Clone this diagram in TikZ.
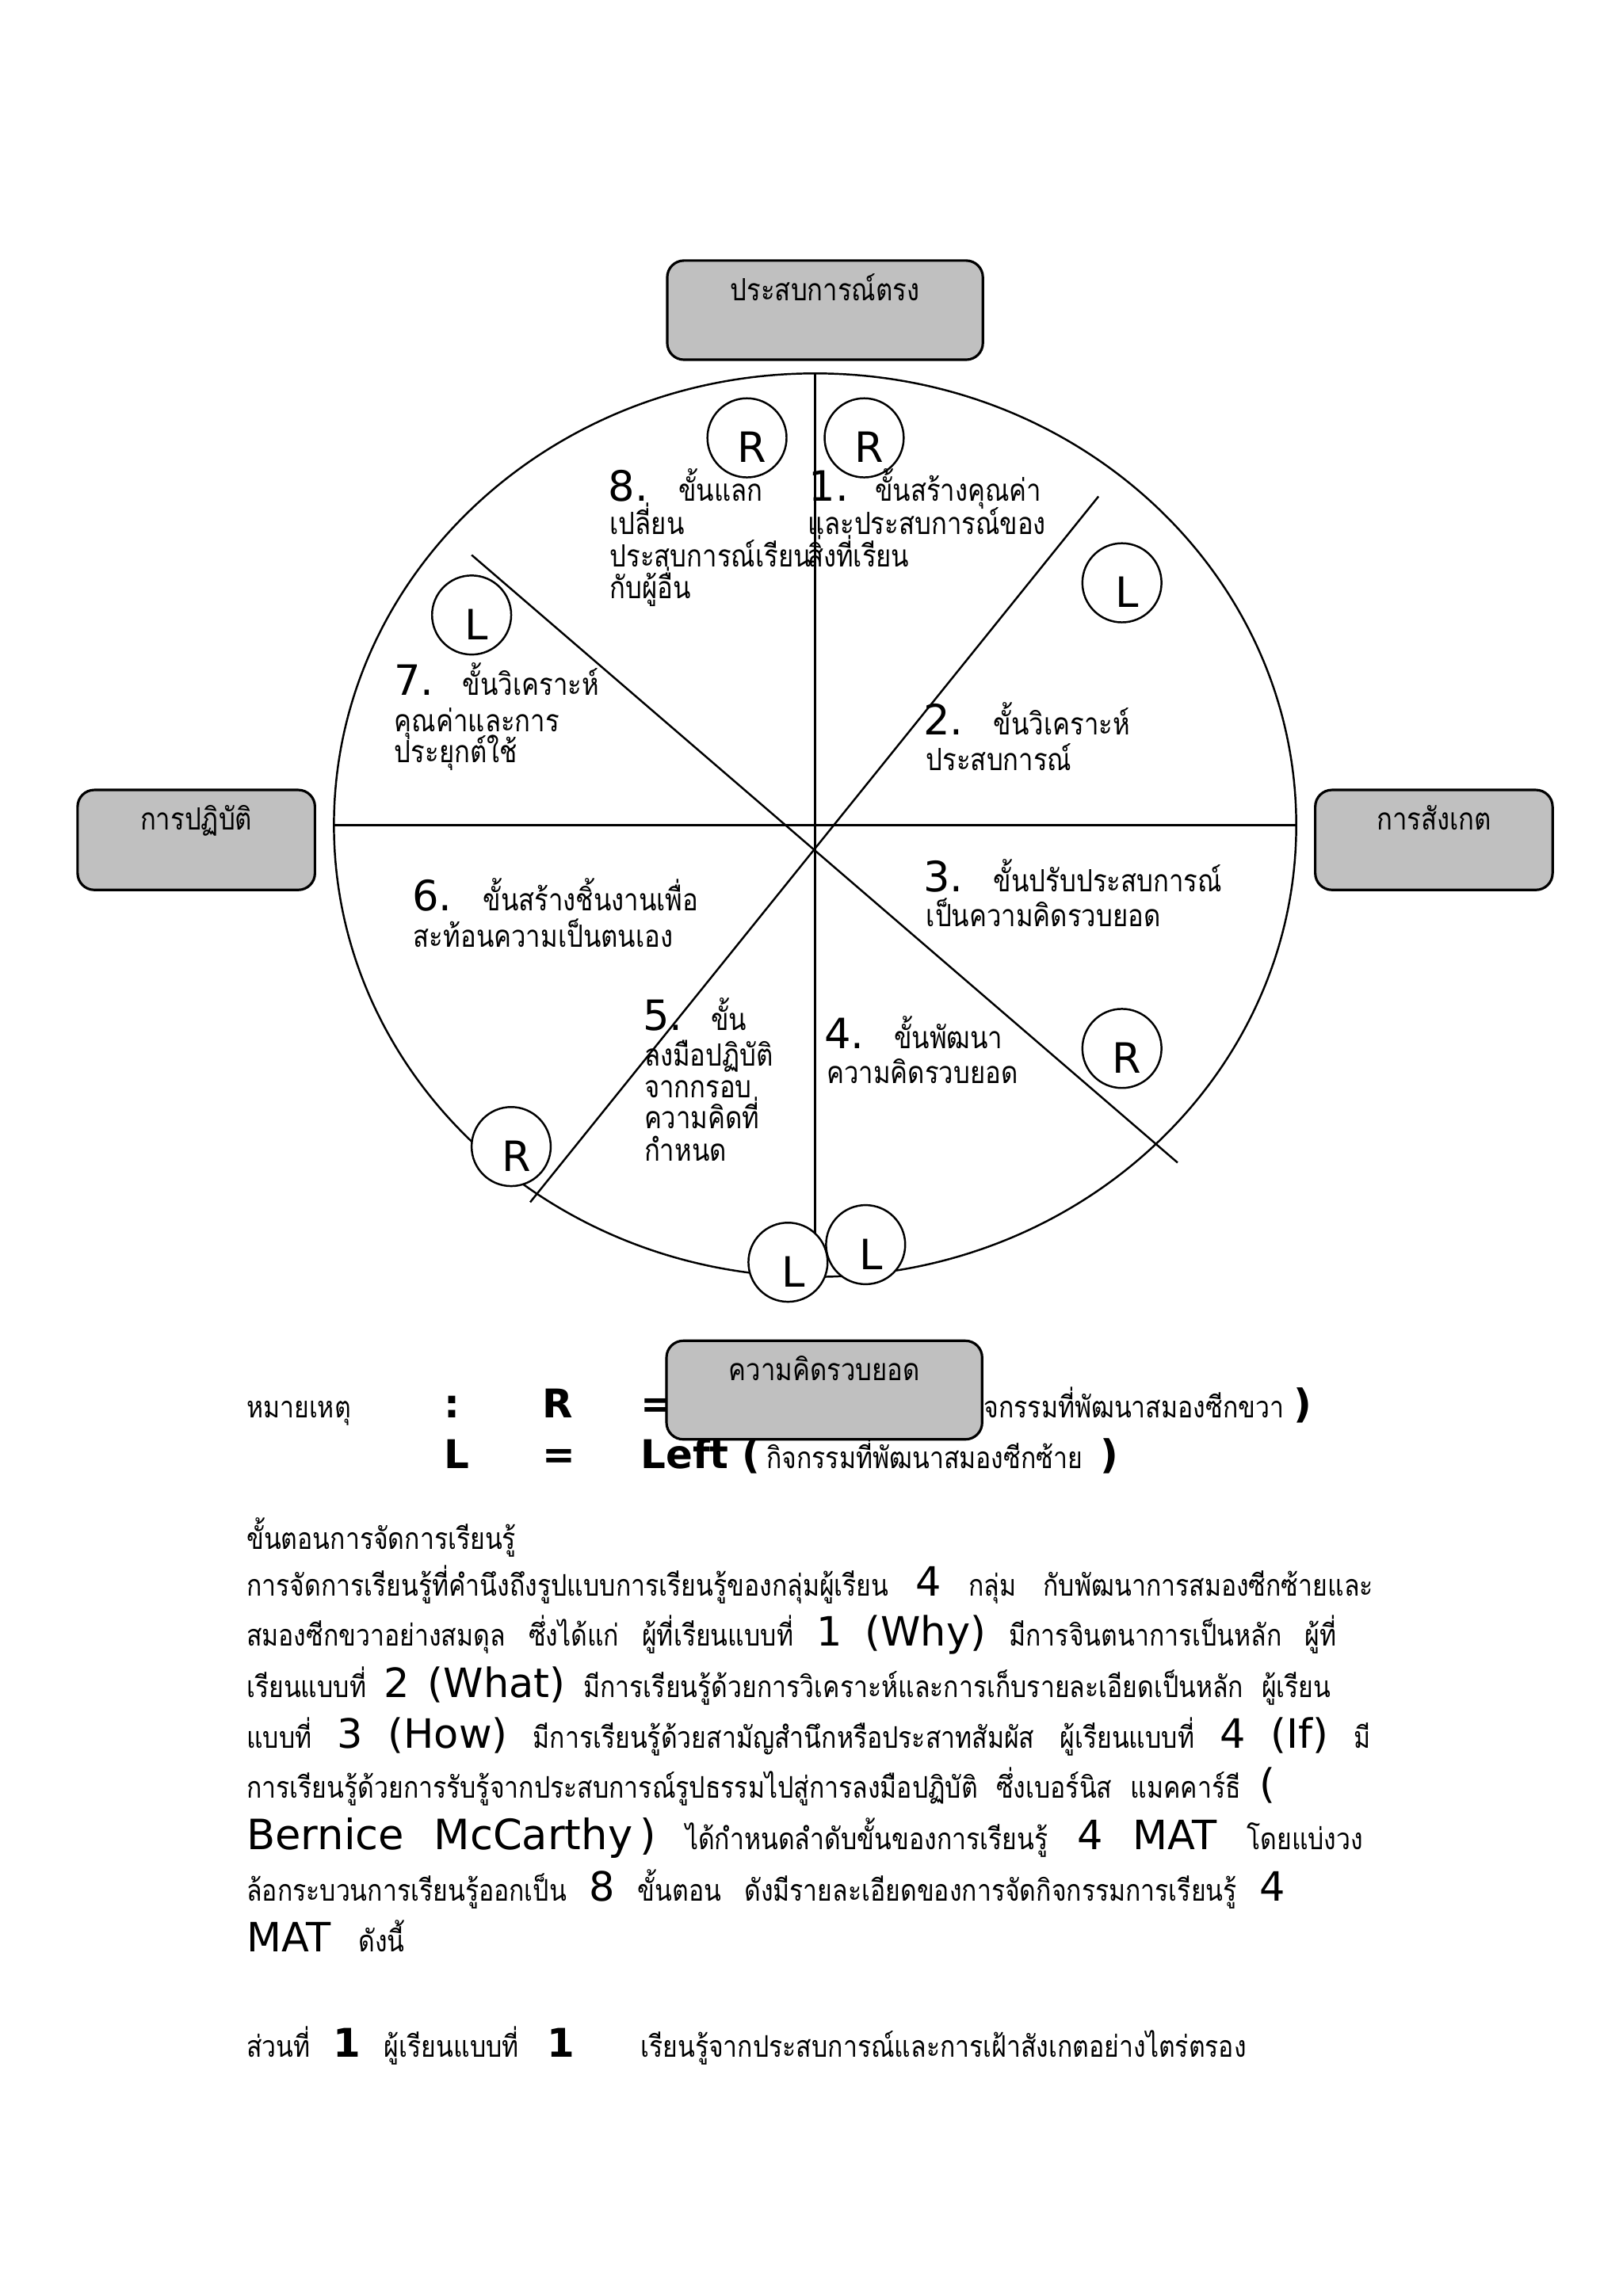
\documentclass[tikz,border=0pt]{standalone}
\usepackage{fontspec}
\setmainfont{DejaVu Sans}
\newfontfamily\thai[Script=Thai, FakeStretch=0.85]{Loma}
\newfontfamily\latn{DejaVu Sans}
\usetikzlibrary{positioning}
\definecolor{boxgray}{RGB}{192,192,192}
\newcommand\en[1]{{\latn\fontsize{14.5}{17}\selectfont #1}}

\begin{document}
\begin{tikzpicture}[
  x=0.018484cm, y=-0.018484cm,
  ln/.style={line width=0.7pt},
  phase/.style={draw, line width=0.9pt, fill=boxgray, rounded corners=6pt, inner sep=0pt,
    text height=9pt, text depth=16pt, font=\thai\fontsize{11}{13}\selectfont},
  brain/.style={circle, draw, line width=0.7pt, fill=white, minimum size=28.4pt, inner sep=0pt,
    text height=17.7pt, text depth=0pt, font=\latn\fontsize{15}{18}\selectfont,
    execute at begin node=\hspace*{3.7pt}},
  stepnum/.style={anchor=base west, inner sep=0pt, font=\latn\fontsize{15}{18}\selectfont},
  txt/.style={anchor=base west, inner sep=0pt, font=\thai\fontsize{11}{13}\selectfont},
  para/.style={anchor=base west, inner sep=0pt, font=\thai\fontsize{10.7}{12}\selectfont},
  sym/.style={anchor=base west, inner sep=0pt, font=\latn\bfseries\fontsize{14.2}{17}\selectfont},
]
\useasboundingbox (0,0) rectangle (1108,1568);

\coordinate (ctr) at (556.5,563.5);
\coordinate (top) at (556.5,255);
\coordinate (bot) at (556.5,872);
\coordinate (wst) at (228,563.5);
\coordinate (est) at (885,563.5);
\coordinate (ne) at (750,339);
\coordinate (sw) at (362,821);
\coordinate (nw) at (322,379);
\coordinate (se) at (804,794);
\draw[ln] (ctr) ellipse [x radius=328.5, y radius=308.5];
\draw[ln] (top) -- (bot);
\draw[ln] (wst) -- (est);
\draw[ln] (ne) -- (sw);
\draw[ln] (nw) -- (se);

\node[brain] (r8) at (510,299) {R};
\node[brain] (r1) at (590,299) {R};
\node[brain] (l2) at (766,398) {L};
\node[brain] (l7) at (322,420) {L};
\node[brain] (r3) at (766,716) {R};
\node[brain] (r6) at (349,783) {R};
\node[brain] (l4) at (591,850) {L};
\node[brain] (l5) at (538,862) {L};

\node[stepnum] (n1) at (552,342) {1.};
\node[txt] (t1a) at (597,342) {ขั้นสร้างคุณค่า};
\node[txt] (t1b) at (551,365) {และประสบการณ์ของ};
\node[txt] (t1c) at (551,387) {สิ่งที่เรียน};
\node[stepnum] (n2) at (630,502) {2.};
\node[txt] (t2a) at (678,502) {ขั้นวิเคราะห์};
\node[txt] (t2b) at (632,526) {ประสบการณ์};
\node[stepnum] (n3) at (630,609) {3.};
\node[txt] (t3a) at (678,609) {ขั้นปรับประสบการณ์};
\node[txt] (t3b) at (632,633) {เป็นความคิดรวบยอด};
\node[stepnum] (n4) at (562.5,716) {4.};
\node[txt] (t4a) at (610,716) {ขั้นพัฒนา};
\node[txt] (t4b) at (564,740) {ความคิดรวบยอด};
\node[stepnum] (n5) at (438.5,703.5) {5.};
\node[txt] (t5a) at (485,703.5) {ขั้น};
\node[txt] (t5b) at (439.5,728) {ลงมือปฏิบัติ};
\node[txt] (t5c) at (439.5,749.5) {จากกรอบ};
\node[txt] (t5d) at (439.5,771) {ความคิดที่};
\node[txt] (t5e) at (439.5,793) {กำหนด};
\node[stepnum] (n6) at (281,622) {6.};
\node[txt] (t6a) at (329.5,622) {ขั้นสร้างชิ้นงานเพื่อ};
\node[txt] (t6b) at (282,646.6) {สะท้อนความเป็นตนเอง};
\node[stepnum] (n7) at (268.6,475) {7.};
\node[txt] (t7a) at (315.5,475) {ขั้นวิเคราะห์};
\node[txt] (t7b) at (269,499.5) {คุณค่าและการ};
\node[txt] (t7c) at (269,521) {ประยุกต์ใช้};
\node[stepnum] (n8) at (415,342) {8.};
\node[txt] (t8a) at (463,342) {ขั้นแลก};
\node[txt] (t8b) at (416,365) {เปลี่ยน};
\node[txt] (t8c) at (416,387) {ประสบการณ์เรียน};
\node[txt] (t8d) at (416,408.5) {กับผู้อื่น};

\node[phase, minimum width=113.3pt, minimum height=35.6pt] (direct) at (563.3,211.8) {ประสบการณ์ตรง};
\node[phase, minimum width=85.2pt, minimum height=35.9pt] (practice) at (134,573.6) {การปฏิบัติ};
\node[phase, minimum width=85.2pt, minimum height=35.9pt] (observe) at (979,573.6) {การสังเกต};

\node[para] (note) at (168,968) {หมายเหตุ};
\node[sym] (colon) at (303,968) {:};
\node[sym] (rkey) at (370,968) {R};
\node[sym] (req) at (437,968) {=};
\node[para, anchor=base east] (rtext) at (877,968) {กิจกรรมที่พัฒนาสมองซีกขวา};
\node[sym] (rclose) at (883,968) {)};
\node[sym] (lkey) at (303,1003) {L};
\node[sym] (leq) at (370,1003) {=};
\node[sym] (lword) at (437,1003) {Left (};
\node[para] (ltext) at (523,1003) {กิจกรรมที่พัฒนาสมองซีกซ้าย};
\node[sym] (lclose) at (751,1003) {)};

\node[phase, minimum width=113.3pt, minimum height=35.4pt] (concept) at (562.8,949.3) {ความคิดรวบยอด};

\node[para] (head) at (168,1058) {ขั้นตอนการจัดการเรียนรู้};
\node[para] (p1) at (168,1090) {\makebox[404.4pt][s]{การจัดการเรียนรู้ที่คำนึงถึงรูปแบบการเรียนรู้ของกลุ่มผู้เรียน \en{4} กลุ่ม กับพัฒนาการสมองซีกซ้ายและ}};
\node[para] (p2) at (168,1124) {\makebox[391.3pt][s]{สมองซีกขวาอย่างสมดุล ซึ่งได้แก่ ผู้ที่เรียนแบบที่ \en{1} \en{(Why)} มีการจินตนาการเป็นหลัก ผู้ที่}};
\node[para] (p3) at (168,1159) {\makebox[389.2pt][s]{เรียนแบบที่ \en{2} \en{(What)} มีการเรียนรู้ด้วยการวิเคราะห์และการเก็บรายละเอียดเป็นหลัก ผู้เรียน}};
\node[para] (p4) at (168,1194) {\makebox[403.4pt][s]{แบบที่ \en{3} \en{(How)} มีการเรียนรู้ด้วยสามัญสำนึกหรือประสาทสัมผัส ผู้เรียนแบบที่ \en{4} \en{(If)} มี}};
\node[para] (p5) at (168,1228) {\makebox[369.2pt][s]{การเรียนรู้ด้วยการรับรู้จากประสบการณ์รูปธรรมไปสู่การลงมือปฏิบัติ ซึ่งเบอร์นิส แมคคาร์ธี \en{(}}};
\node[para] (p6) at (168,1263) {\makebox[400.8pt][s]{{\latn\fontsize{15}{17}\selectfont Bernice} {\latn\fontsize{15}{17}\selectfont McCarthy\hspace{2.5pt})} ได้กำหนดลำดับขั้นของการเรียนรู้ \en{4} \en{MAT} โดยแบ่งวง}};
\node[para] (p7) at (168,1298) {\makebox[372.9pt][s]{ล้อกระบวนการเรียนรู้ออกเป็น \en{8} ขั้นตอน ดังมีรายละเอียดของการจัดกิจกรรมการเรียนรู้ \en{4}}};
\node[para] (p8) at (168,1333) {\en{MAT}\hspace{10pt}ดังนี้};

\node[para] (part) at (168,1405) {ส่วนที่};
\node[sym] (partno) at (227,1405) {1};
\node[para] (learner) at (262,1405) {ผู้เรียนแบบที่};
\node[sym] (learnerno) at (373,1405) {1};
\node[para] (reflect) at (437,1405) {เรียนรู้จากประสบการณ์และการเฝ้าสังเกตอย่างไตร่ตรอง};
\end{tikzpicture}
\end{document}
